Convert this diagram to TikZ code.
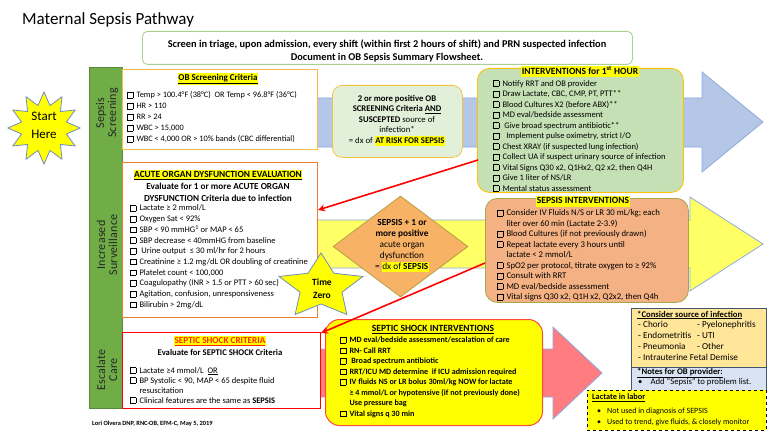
\documentclass[tikz,border=0pt]{standalone}
\usepackage{fontspec}
\setmainfont{Carlito}
\usetikzlibrary{shapes.geometric,arrows.meta}
\definecolor{sideg}{HTML}{70AD47}
\definecolor{topg}{HTML}{A9D18E}
\definecolor{obb}{HTML}{F6B942}
\definecolor{acb}{HTML}{ED7D31}
\definecolor{blueF}{HTML}{B4C7E7}
\definecolor{arrl}{HTML}{8FAADC}
\definecolor{yelF}{HTML}{FFFF66}
\definecolor{pinkF}{HTML}{FF7C80}
\definecolor{midF}{HTML}{E2F0D9}
\definecolor{midB}{HTML}{F4C242}
\definecolor{hoF}{HTML}{C5E0B4}
\definecolor{hoB}{HTML}{FFC000}
\definecolor{sepF}{HTML}{F4B183}
\definecolor{sepB}{HTML}{A4A84A}
\definecolor{diaF}{HTML}{F7B266}
\definecolor{diaB}{HTML}{B5A040}
\definecolor{sssB}{HTML}{FF4B3A}
\definecolor{consF}{HTML}{FFE699}
\definecolor{consB}{HTML}{44546A}
\definecolor{notesF}{HTML}{DAE3F3}
\definecolor{hly}{HTML}{FFFF00}
\definecolor{starB}{HTML}{6F8DC0}
\definecolor{ssred}{HTML}{FF2A00}
\newcommand{\ckb}{{\fboxsep=0pt\fboxrule=0.45pt\fbox{\rule{0pt}{5.2pt}\rule{5.2pt}{0pt}}}\hspace{3.2pt}}
\newcommand{\hl}[1]{{\fboxsep=0.6pt\colorbox{hly}{\rule[-2.2pt]{0pt}{9pt}#1}}}
\begin{document}
\begin{tikzpicture}[x=1pt,y=-1pt,
  panel/.style={draw, inner sep=0pt, anchor=north west, line width=0.8pt},
  lst/.style={anchor=north west, inner sep=0pt, align=left},
  ctext/.style={inner sep=0pt, align=center},
  ltext/.style={inner sep=0pt, anchor=west},
  sidelab/.style={ctext, rotate=90, text=black!85, font=\addfontfeatures{LetterSpace=2}\fontsize{12}{12}\selectfont},
  redarr/.style={draw=red, line width=1.6pt, -{Stealth[length=7pt,width=7pt]}},
  bigarrow/.style={draw=arrl, line width=0.8pt, line join=miter}]
\useasboundingbox (0,0) rectangle (768,433);
\fill[white] (0,0) rectangle (768,433);
% big arrows
\filldraw[bigarrow, fill=blueF] (200,98) -- (702,98) -- (702,72) -- (763,122) -- (702,172) -- (702,147) -- (200,147) -- cycle;
\filldraw[bigarrow, fill=yelF] (200,220) -- (690,220) -- (690,197) -- (763,244) -- (690,291) -- (690,268) -- (200,268) -- cycle;
\filldraw[bigarrow, fill=pinkF] (200,349) -- (553,349) -- (553,327) -- (602,373) -- (553,419) -- (553,397) -- (200,397) -- cycle;
% title
\node[ltext, font=\fontsize{17}{20}\selectfont] (ttl) at (22,20) {Maternal Sepsis Pathway};
\node[panel, draw=topg, fill=white, minimum width=490pt, minimum height=33pt, rounded corners=5pt] (topb) at (142,31) {};
\node[ctext, font=\bfseries\fontsize{10.4}{13}\selectfont] (topt) at (387,50.5) {Screen in triage, upon admission, every shift (within first 2 hours of shift) and PRN suspected infection\\Document in OB Sepsis Summary Flowsheet.};
% sidebar
\node[panel, fill=sideg, draw=sideg!80!black, minimum width=33pt, minimum height=341pt] (side) at (89,67) {};
\node[sidelab] (lab1) at (107,113) {Sepsis\\Screening};
\node[sidelab] (lab2) at (107,245) {Increased\\Surveillance};
\node[sidelab] (lab3) at (107,370) {Escalate\\Care};
% start star
\node[star, star points=12, star point ratio=1.55, minimum size=72pt, inner sep=0pt, fill=hly, draw=starB, line width=0.8pt] (start) at (44,128) {};
\node[ctext, font=\fontsize{13}{18}\selectfont] (startt) at (44,125) {Start\\Here};
% OB screening
\node[panel, draw=obb, fill=white, minimum width=195pt, minimum height=80pt] (ob) at (122,69) {};
\node[ctext, font=\bfseries\fontsize{9}{10}\selectfont] (obt) at (218,79) {\hl{\underline{OB Screening Criteria}}};
\node[lst, font=\fontsize{8.3}{11}\selectfont] (obl) at (127,90) {\strut\ckb Temp > 100.4°F (38°C)\ \ OR Temp < 96.8°F (36°C)\\\ckb HR > 110\\\ckb RR > 24\\\ckb WBC > 15,000\\\ckb WBC < 4,000 OR > 10\% bands (CBC differential)};
% middle
\node[panel, draw=midB, fill=midF, minimum width=130pt, minimum height=72pt, rounded corners=10pt] (mid) at (332,85) {};
\node[ctext, font=\fontsize{8.7}{10.5}\selectfont] (midt) at (397,120.5) {\textbf{2 or more positive OB}\\\textbf{SCREENING Criteria \underline{AND}}\\\textbf{SUSCEPTED} source of\\infection*\\= dx of \hl{\textbf{AT RISK FOR SEPSIS}}};
% interventions 1st hour
\node[panel, draw=hoB, fill=hoF, minimum width=206pt, minimum height=124pt, rounded corners=12pt] (ho) at (477,68) {};
\node[ctext, font=\bfseries\fontsize{9.5}{10}\selectfont] (hot) at (580,71.5) {\hl{INTERVENTIONS for 1\textsuperscript{st} HOUR}};
\node[lst, font=\fontsize{8.5}{10.5}\selectfont] (hol) at (493,78.5) {\strut\ckb Notify RRT and OB provider\\\ckb Draw Lactate, CBC, CMP, PT, PTT**\\\ckb Blood Cultures X2 (before ABX)**\\\ckb MD eval/bedside assessment\\\ckb\ Give broad spectrum antibiotic**\\\ckb\ \ Implement pulse oximetry, strict I/O\\\ckb Chest XRAY (if suspected lung infection)\\\ckb Collect UA if suspect urinary source of infection\\\ckb Vital Signs Q30 x2, Q1Hx2, Q2 x2, then Q4H\\\ckb Give 1 liter of NS/LR\\\ckb Mental status assessment};
% acute organ
\node[panel, draw=acb, fill=white, minimum width=195pt, minimum height=155pt] (ac) at (122,162) {};
\node[ctext, font=\bfseries\fontsize{9.4}{10}\selectfont] (act) at (218,175) {\hl{\underline{ACUTE ORGAN DYSFUNCTION EVALUATION}}};
\node[ctext, font=\bfseries\fontsize{9.2}{12}\selectfont] (ac2) at (218,192) {Evaluate for 1 or more ACUTE ORGAN\\DYSFUNCTION Criteria due to infection};
\node[lst, font=\fontsize{8.5}{10.7}\selectfont] (acl) at (130,203.3) {\strut\ckb Lactate ≥ 2 mmol/L\\\ckb Oxygen Sat < 92\%\\\ckb SBP < 90 mmHG\textsuperscript{1} or MAP < 65\\\ckb SBP decrease < 40mmHG from baseline\\\ckb\ Urine output\ \ ≤ 30 ml/hr for 2 hours\\\ckb Creatinine ≥ 1.2 mg/dL OR doubling of creatinine\\\ckb Platelet count < 100,000\\\ckb Coagulopathy (INR > 1.5 or PTT > 60 sec)\\\ckb Agitation, confusion, unresponsiveness\\\ckb Bilirubin > 2mg/dL};
% diamond
\node[diamond, fill=diaF, draw=diaB, line width=0.8pt, minimum width=135pt, minimum height=101pt, inner sep=0pt] (dia) at (400.5,246.5) {};
\node[ctext, font=\fontsize{9.3}{11}\selectfont] (diat) at (402,246) {\textbf{SEPSIS + 1 or}\\\textbf{more positive}\\acute organ\\dysfunction\\= \hl{dx of \textbf{SEPSIS}}};
% sepsis interventions
\node[panel, draw=sepB, fill=sepF, minimum width=203pt, minimum height=104pt, rounded corners=12pt] (sep) at (485,198) {};
\node[ctext, font=\bfseries\fontsize{9.5}{10}\selectfont] (sept) at (583,201.5) {\hl{SEPSIS INTERVENTIONS}};
\node[lst, font=\fontsize{8.7}{10.5}\selectfont] (sepl) at (497,208) {\strut\ckb Consider IV Fluids N/S or LR 30 mL/kg; each\\\hspace{9.3pt}liter over 60 min (Lactate 2-3.9)\\\ckb Blood Cultures (if not previously drawn)\\\ckb Repeat lactate every 3 hours until\\\hspace{9.3pt}lactate < 2 mmol/L\\\ckb SpO2 per protocol, titrate oxygen to ≥ 92\%\\\ckb Consult with RRT\\\ckb MD eval/bedside assessment\\\ckb Vital signs\ Q30 x2, Q1H x2, Q2x2, then Q4h};
% septic shock criteria
\node[panel, draw=red, fill=white, minimum width=198pt, minimum height=76pt] (ssc) at (122,332) {};
\node[ctext, text=ssred, font=\bfseries\fontsize{9.2}{10}\selectfont] (ssct) at (220,341) {\hl{\underline{SEPTIC SHOCK CRITERIA}}};
\node[ctext, font=\bfseries\fontsize{8.7}{10}\selectfont] (ssc2) at (220,352.5) {Evaluate for SEPTIC SHOCK Criteria};
\node[lst, font=\fontsize{8.5}{10}\selectfont] (sscl) at (130,365.8) {\strut\ckb Lactate ≥4 mmol/L\ \ \underline{OR}\\\ckb BP Systolic < 90, MAP < 65 despite fluid\\\hspace{9.3pt}resuscitation\\\ckb Clinical features are the same as \textbf{SEPSIS}};
% septic shock interventions
\node[panel, draw=sssB, fill=hly, line width=1pt, minimum width=217pt, minimum height=106pt, rounded corners=14pt] (sss) at (325,319) {};
\node[ctext, font=\bfseries\fontsize{9.5}{10}\selectfont] (ssst) at (433,329.5) {\underline{SEPTIC SHOCK INTERVENTIONS}};
\node[lst, font=\bfseries\fontsize{8.1}{10.5}\selectfont] (sssl) at (340,335.3) {\strut\ckb MD eval/bedside assessment/escalation of care\\\ckb RN- Call RRT\\\ckb\ Broad spectrum antibiotic\\\ckb RRT/ICU MD determine\ \ if ICU admission required\\\ckb IV fluids NS or LR bolus 30ml/kg NOW for lactate\\\hspace{9.3pt}≥ 4 mmol/L or hypotensive (if not previously done)\\\hspace{9.3pt}Use pressure bag\\\ckb Vital signs q 30 min};
% time zero star
\filldraw[fill=hly, draw=starB, line width=0.8pt]
  ({321+44*cos(90)},{287-34*sin(90)}) -- ({321+22*cos(54)},{287-17*sin(54)}) --
  ({321+44*cos(18)},{287-34*sin(18)}) -- ({321+22*cos(-18)},{287-17*sin(-18)}) --
  ({321+44*cos(-54)},{287-34*sin(-54)}) -- ({321+22*cos(-90)},{287-17*sin(-90)}) --
  ({321+44*cos(-126)},{287-34*sin(-126)}) -- ({321+22*cos(-162)},{287-17*sin(-162)}) --
  ({321+44*cos(162)},{287-34*sin(162)}) -- ({321+22*cos(126)},{287-17*sin(126)}) -- cycle;
\node[ctext, font=\bfseries\fontsize{9.5}{12.5}\selectfont] (tz) at (322,288.5) {Time\\Zero};
% right notes
\node[panel, draw=consB, fill=consF, minimum width=135pt, minimum height=59pt] (cons) at (631,308) {};
\node[ltext, font=\bfseries\fontsize{8.7}{10}\selectfont] (const) at (637,315) {\underline{*Consider source of infection}};
\node[lst, font=\fontsize{9.2}{11}\selectfont] (cons1) at (638,319.4) {\strut - Chorio\\- Endometritis\\- Pneumonia\\- Intrauterine Fetal Demise};
\node[lst, font=\fontsize{9.2}{11}\selectfont] (cons2) at (697,319.4) {\strut - Pyelonephritis\\- UTI\\- Other};
\node[panel, draw=consB, fill=notesF, minimum width=135pt, minimum height=23pt] (notes) at (631,367) {};
\node[ltext, font=\bfseries\fontsize{8.7}{10}\selectfont] (notest) at (637,373.5) {\underline{*Notes for OB provider:}};
\node[ltext, font=\fontsize{8.7}{10}\selectfont] (notesl) at (638,382.5) {•\hspace{8pt}Add “Sepsis” to problem list.};
\node[panel, draw=black, dashed, fill=hly, minimum width=179pt, minimum height=40pt] (lac) at (587,390) {};
\node[ltext, font=\bfseries\fontsize{8.3}{10}\selectfont] (lact) at (592,397.5) {\underline{Lactate in labor}};
\node[lst, font=\fontsize{8}{11}\selectfont] (lacl) at (597,405.8) {\strut•\hspace{6pt}Not used in diagnosis of SEPSIS\\•\hspace{6pt}Used to trend, give fluids, \& closely monitor};
% footer
\node[ltext, font=\bfseries\fontsize{6.4}{7}\selectfont] (foot) at (92,424) {Lori Olvera DNP, RNC-OB, EFM-C, May 5, 2019};
% red connectors
\coordinate (r1s) at (478,160);
\coordinate (r1e) at (318,210);
\coordinate (r2s) at (485,263);
\coordinate (r2e) at (321,333);
\draw[redarr] (r1s) -- (r1e);
\draw[redarr] (r2s) -- (r2e);
\end{tikzpicture}
\end{document}
